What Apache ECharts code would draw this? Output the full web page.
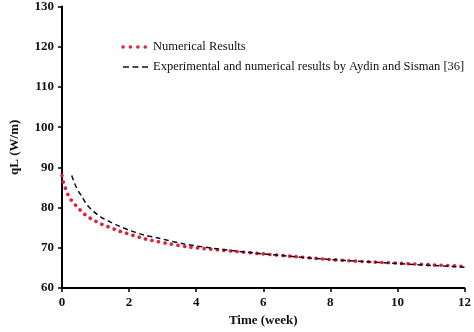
<!DOCTYPE html>
<html><head><meta charset="utf-8">
<script src="https://cdn.jsdelivr.net/npm/echarts@6/dist/echarts.min.js"></script>
<style>html,body{margin:0;padding:0;background:#fff}#c{width:474px;height:332px}</style>
</head><body><div id="c"></div>
<script>
var numX = [0,0.04,0.19,0.3,0.43,0.58,0.74,0.92,1.1,1.26,1.46,1.66,1.85,2.05,2.24,2.44,2.64,2.83,3.2,3.8,4.8,6,7,8,9,10,11,12];
var numY = [88,86.3,83.0,81.6,80.4,79.1,77.9,77.0,76.2,75.6,75.0,74.3,73.8,73.3,72.8,72.3,71.9,71.6,71.0,70.2,69.4,68.5,67.8,67.1,66.6,66.2,65.8,65.4];
var expX = [0.29,0.43,0.58,0.73,0.92,1.17,1.45,1.71,2.0,2.44,2.83,3.62,4.5,6,8,10,12];
var expY = [88,85.0,82.9,80.9,79.2,77.6,76.4,75.4,74.4,73.2,72.5,71.0,69.9,68.5,67.1,66.1,65.2];
var seriesNames = ['Numerical Results','Experimental and numerical results by Aydin and Sisman [36]'];
function pairs(xs, ys){return xs.map(function(x,i){return [x, ys[i]];});}
var font = 'Liberation Serif';
var red = '#e0203c';
var chart = echarts.init(document.getElementById('c'));
chart.setOption({
  animation:false,
  grid:{left:57,right:9,top:5,bottom:42},
  graphic:[
    {type:'line',shape:{x1:123,y1:47,x2:148,y2:47},
     style:{stroke:red,lineWidth:3.5,lineDash:[0.1,7.3],lineCap:'round'}},
    {type:'text',left:153,top:40,style:{text:seriesNames[0],font:'12.5px "Liberation Serif"',fill:'#111'}},
    {type:'line',shape:{x1:123,y1:67,x2:150,y2:67},
     style:{stroke:'#111',lineWidth:1.6,lineDash:[6,3.5]}},
    {type:'text',left:153,top:60,style:{text:seriesNames[1],font:'12.5px "Liberation Serif"',fill:'#111'}}
  ],
  xAxis:{type:'value',min:0,max:12,interval:2,
    name:'Time (week)',nameLocation:'middle',nameGap:24,
    nameTextStyle:{fontFamily:font,fontSize:13,fontWeight:'bold',color:'#111'},
    axisLine:{lineStyle:{color:'#000',width:2}},
    axisTick:{length:4,lineStyle:{color:'#000',width:1.5}},
    axisLabel:{fontFamily:font,fontSize:13,fontWeight:'bold',color:'#111',margin:8},
    splitLine:{show:false}},
  yAxis:{type:'value',min:60,max:130,interval:10,
    name:'qL (W/m)',nameLocation:'middle',nameGap:41,
    nameTextStyle:{fontFamily:font,fontSize:13,fontWeight:'bold',color:'#111'},
    axisLine:{show:true,lineStyle:{color:'#000',width:2}},
    axisTick:{show:true,length:4,lineStyle:{color:'#000',width:1.5}},
    axisLabel:{fontFamily:font,fontSize:13,fontWeight:'bold',color:'#111',margin:8},
    splitLine:{show:false}},
  series:[
    {name:seriesNames[0],type:'line',smooth:0.3,showSymbol:false,symbol:'none',
     data:pairs(numX,numY),
     lineStyle:{color:red,width:3.6,type:[0.1,6.5],cap:'round'}},
    {name:seriesNames[1],type:'line',smooth:0.3,showSymbol:false,symbol:'none',
     data:pairs(expX,expY),
     lineStyle:{color:'#111',width:1.5,type:[5,3.5]}}
  ]
});
</script></body></html>
